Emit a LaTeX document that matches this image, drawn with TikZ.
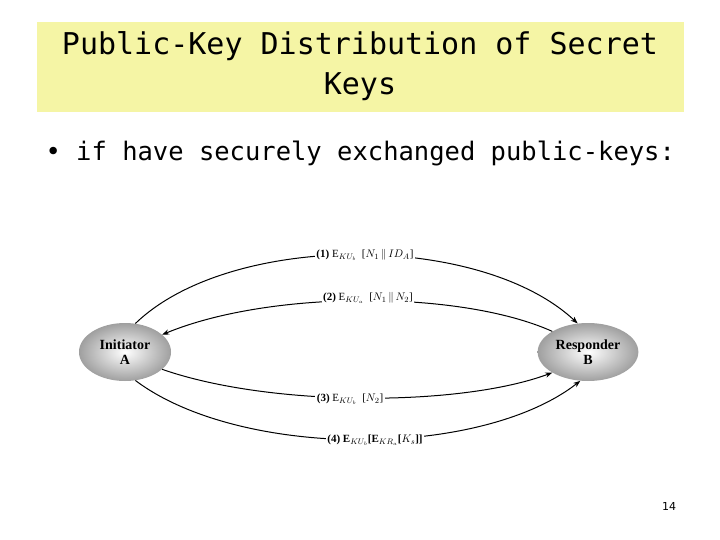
\documentclass[tikz,border=0pt]{standalone}
\usepackage{fontspec}
\setmainfont{DejaVu Sans}
\newfontfamily\mono{DejaVu Sans Mono}
\newfontfamily\tms{Liberation Serif}
\begin{document}
\begin{tikzpicture}[x=1pt,y=-1pt,
  party/.style={ellipse,minimum width=92pt,minimum height=58pt,inner color=white,outer color=gray!75,font=\tms\bfseries\fontsize{14}{15}\selectfont,align=center},
  lab/.style={fill=white,inner sep=1.5pt,font=\tms\fontsize{11}{12}\selectfont},
  arc/.style={line width=1pt,-{Stealth[length=7pt]}}]
\usetikzlibrary{shapes.geometric,arrows.meta}
\useasboundingbox (0,0) rectangle (720,540);
\fill[fill={rgb,255:red,245;green,245;blue,165}] (37,22) rectangle (684,112);
\node[font=\mono\fontsize{30}{40}\selectfont,align=center] (t) at (360,66) {Public-Key Distribution of Secret\\Keys};
\node[font=\mono\fontsize{25.5}{28}\selectfont,anchor=west] (b) at (42,153) {• if have securely exchanged public-keys:};
\node[party] (A) at (125,352) {Initiator\\A};
\node[party] (B) at (588,352) {Responder\\B};
\draw[arc] (A.70) .. controls (230,232) and (480,232) .. (B.110);
\draw[arc] (B.150) .. controls (460,290) and (270,290) .. (A.25);
\draw[arc] (A.-25) .. controls (270,407) and (460,407) .. (B.-150);
\draw[arc] (A.-70) .. controls (240,459) and (480,459) .. (B.-105);
\node[lab] (l1) at (365,255) {\textbf{(1)} E$_{KU_b}$\ \ [$N_1\,\|\,ID_A$]};
\node[lab] (l2) at (368,298) {\textbf{(2)} E$_{KU_a}$\ \ [$N_1\,\|\,N_2$]};
\node[lab] (l3) at (350,399) {\textbf{(3)} E$_{KU_b}$\ \ [$N_2$]};
\node[lab] (l4) at (375,440) {\textbf{(4) E$_{KU_b}$[E$_{KR_a}$[$K_s$]]}};
\node[font=\fontsize{11}{13}\selectfont] (p) at (669,506) {14};
\end{tikzpicture}
\end{document}
